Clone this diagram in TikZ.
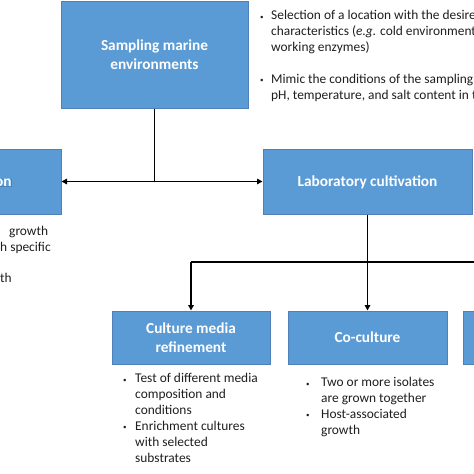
\documentclass[tikz,border=0pt]{standalone}
\usepackage{fontspec}
\setmainfont{Carlito}
\usetikzlibrary{arrows.meta}
\definecolor{boxblue}{HTML}{5B9BD5}
\definecolor{boxedge}{HTML}{4F80B8}
\definecolor{txt}{HTML}{1E1E1E}
\tikzset{
  box/.style={draw=boxedge, fill=boxblue, line width=1pt, inner sep=0pt,
    text=white, font=\fontsize{15.3}{18.5}\selectfont\bfseries, align=center},
  link/.style={line width=1.4pt, draw=black},
  arr/.style={link, -{Triangle[length=5.5pt,width=5.5pt]}},
  note/.style={inner sep=0pt, text=txt, align=left, anchor=north west,
    font=\fontsize{13.4}{15.9}\selectfont},
  frag/.style={inner sep=0pt, text=txt, anchor=base west,
    font=\fontsize{13.4}{15.9}\selectfont},
}
\newcommand\bul[1][12pt]{\makebox[#1][l]{\raisebox{0.5pt}{\scriptsize•}}}
\newcommand\ind[1][12pt]{\hspace*{#1}}
\begin{document}
\begin{tikzpicture}[x=1pt,y=-1pt]
\useasboundingbox (0,0) rectangle (474,474);
\clip (0,0) rectangle (474,474);
% boxes
\node[box, minimum width=187pt, minimum height=107pt] (top) at (154.5,54.5) {Sampling marine\\environments};
\node[box, minimum width=209pt, minimum height=65pt] (left) at (-43.5,181.5) {};
\node[box, anchor=east, inner sep=0pt] (lefttxt) at (12,183) {on};
\node[box, minimum width=209pt, minimum height=65pt, text depth=1pt] (lab) at (367.5,181.5) {Laboratory cultivation};
\node[box, minimum width=158pt, minimum height=53pt] (cmr) at (191,337.5) {Culture media\\refinement};
\node[box, minimum width=159pt, minimum height=53pt] (cocult) at (367.5,337.5) {Co-culture};
\node[box, minimum width=159pt, minimum height=53pt] (third) at (542.5,337.5) {};
% connectors
\coordinate (j1) at (top.south |- lab.west);
\coordinate (j2) at (lab.south |- 0,262);
\coordinate (jl) at (cmr.north |- j2);
\coordinate (jr) at (third.north |- j2);
\draw[link] (top.south) -- (j1);
\draw[arr] (j1) -- (left.east);
\draw[arr] (j1) -- (lab.west);
\draw[arr] (lab.south) -- (cocult.north);
\draw[link] (jl) -- (jr);
\draw[arr] (jl) -- (cmr.north);
\draw[arr] (jr) -- (third.north);
% notes
\node[note] (ntop) at (260,10) {\bul[11pt]Selection of a location with the desired\\
\ind[11pt]characteristics (\textit{e.g.} cold environments for cold-\\
\ind[11pt]working enzymes)\\[15.9pt]
\bul[11pt]Mimic the conditions of the sampling site:\\
\ind[11pt]pH, temperature, and salt content in the};
\node[frag] (nl1) at (9,235) {growth};
\node[frag] (nl2) at (0,251) {h specific};
\node[frag] (nl3) at (0,282) {th};
\node[note] (ncmr) at (123,373) {\bul Test of different media\\
\ind composition and\\
\ind conditions\\
\bul Enrichment cultures\\
\ind with selected\\
\ind substrates};
\node[note] (ncoc) at (306,377) {\bul[15pt]Two or more isolates\\
\ind[15pt]are grown together\\
\bul[15pt]Host-associated\\
\ind[15pt]growth};
\end{tikzpicture}
\end{document}
